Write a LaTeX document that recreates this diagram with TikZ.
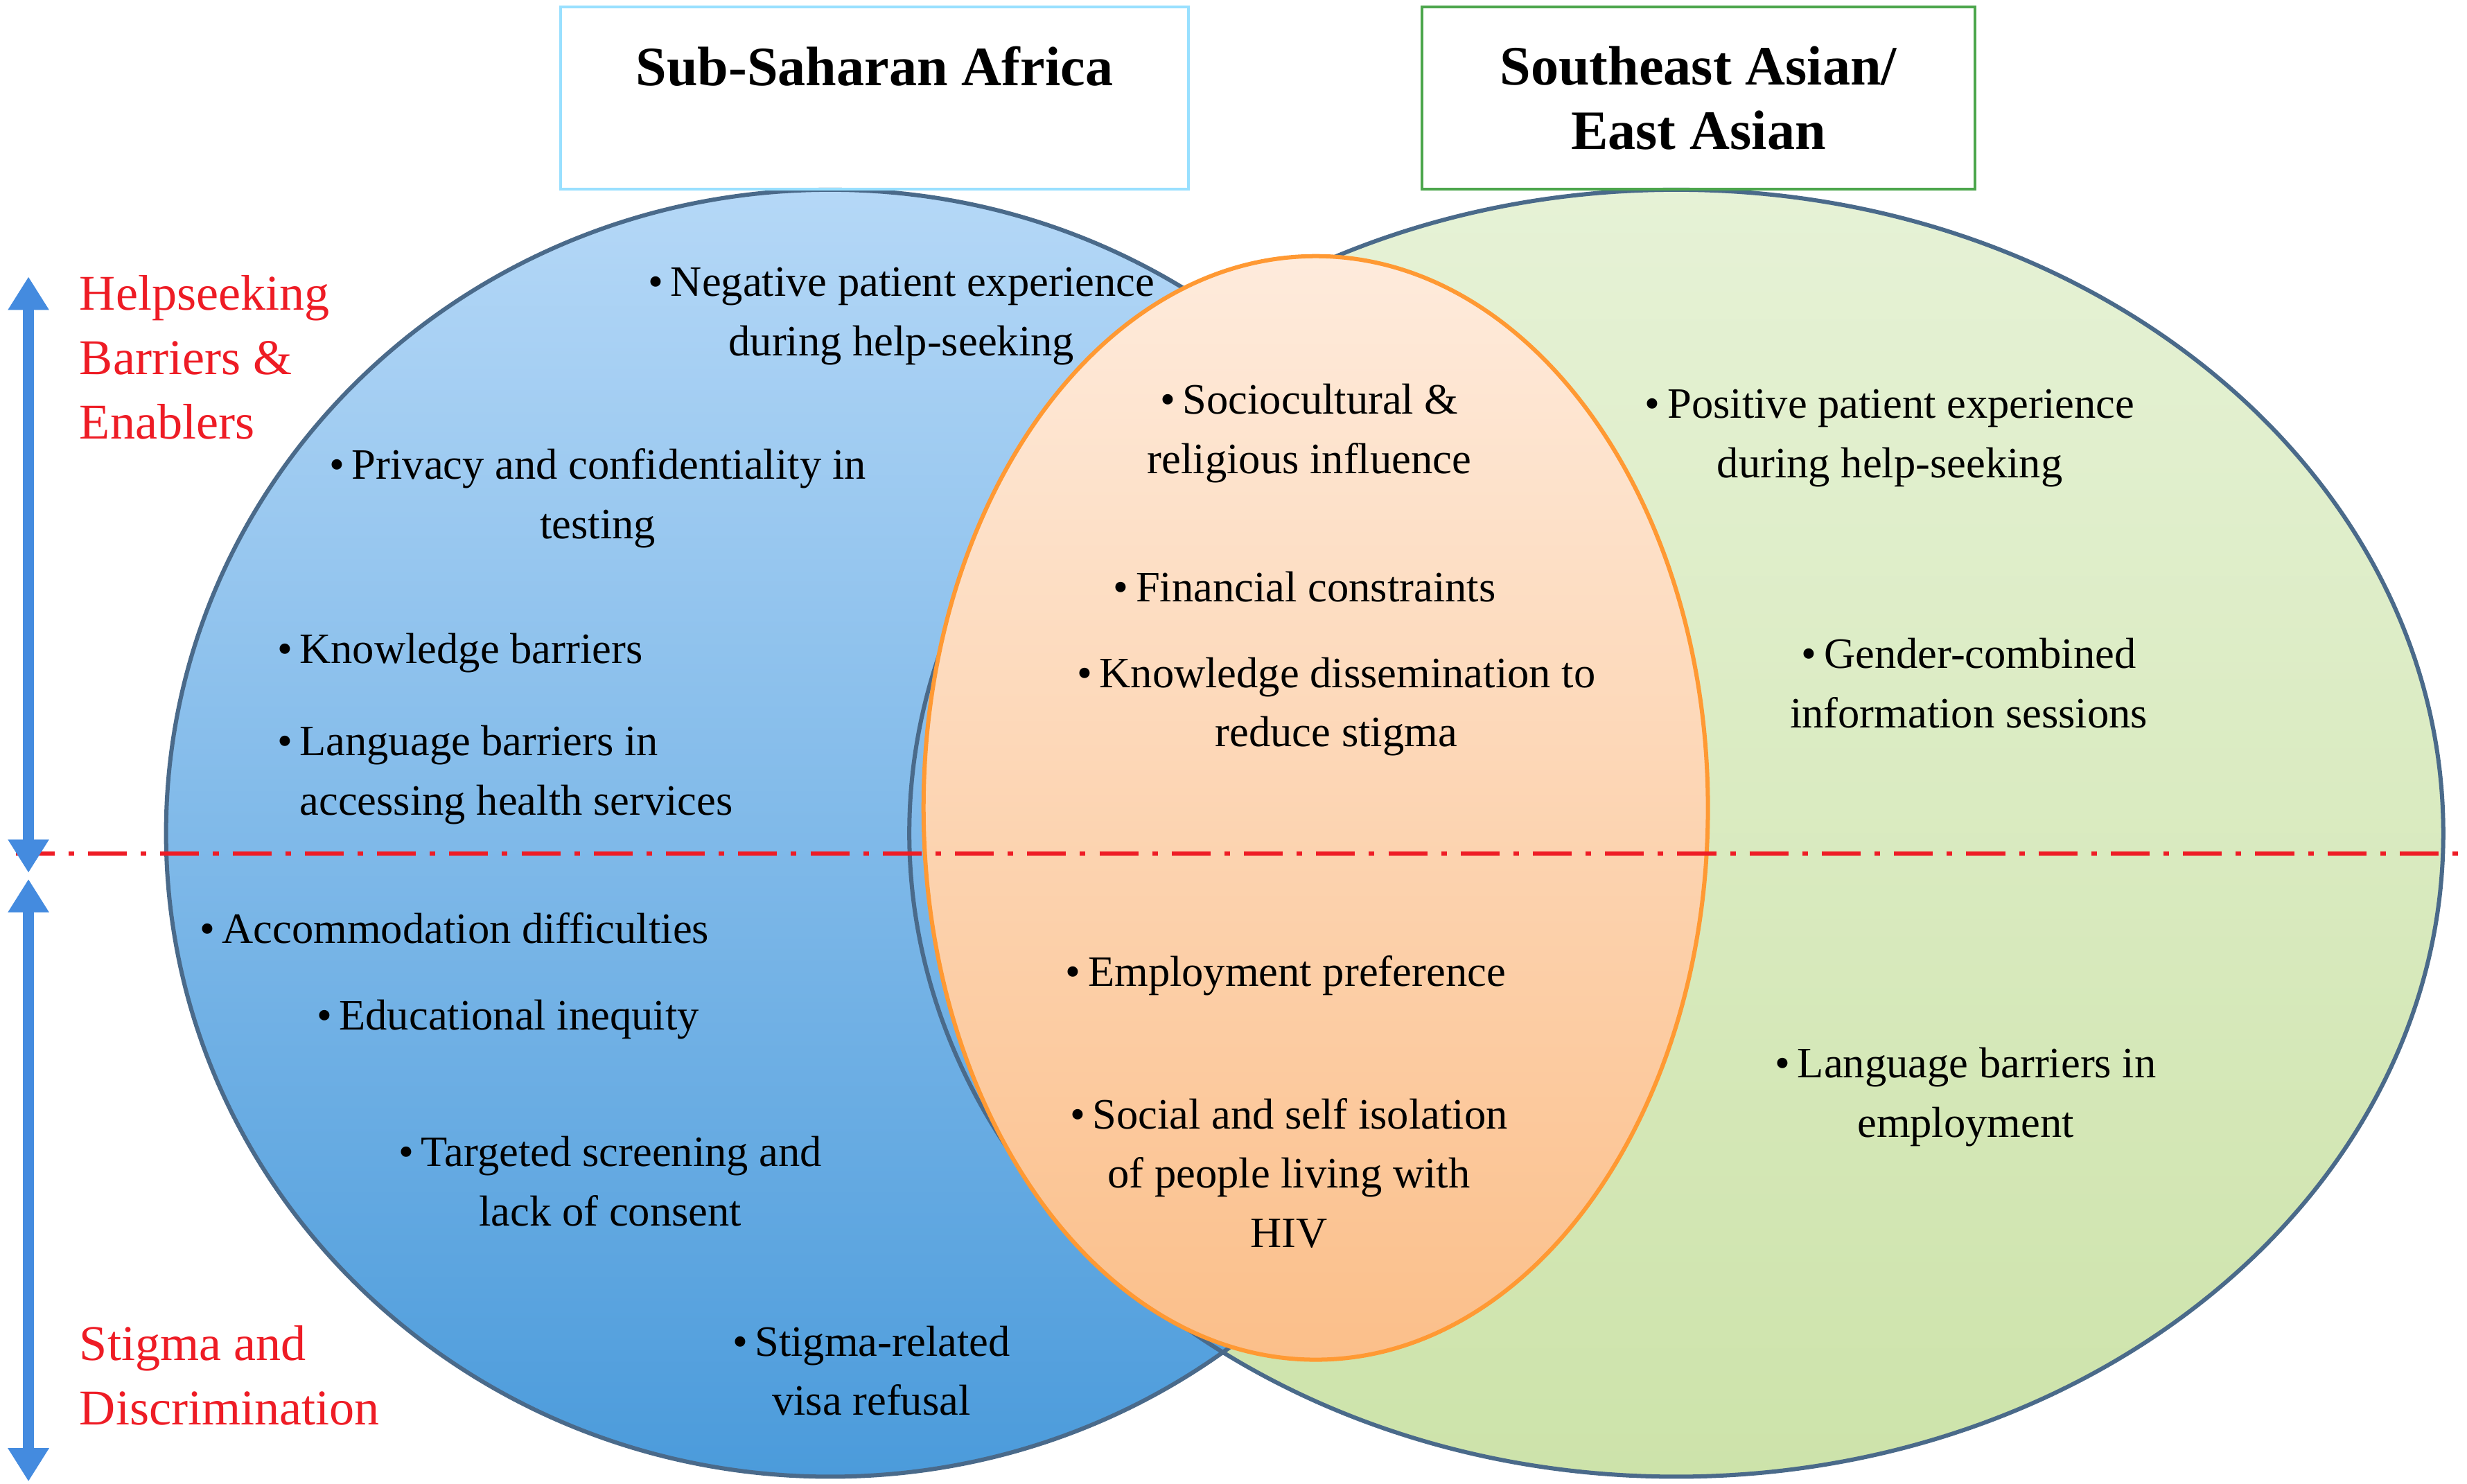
\documentclass[tikz,border=0pt]{standalone}
\usepackage{fontspec}
\setmainfont{Liberation Serif}
\usetikzlibrary{arrows.meta}
\definecolor{bluetop}{HTML}{B5D8F7}
\definecolor{bluebot}{HTML}{4B9BDB}
\definecolor{greentop}{HTML}{E6F2D6}
\definecolor{greenbot}{HTML}{CDE3AA}
\definecolor{orgtop}{HTML}{FEEBDC}
\definecolor{orgbot}{HTML}{FBBF8A}
\definecolor{redtxt}{HTML}{EE1C25}
\definecolor{edge}{HTML}{4A6A8A}
\begin{document}
\begin{tikzpicture}[x=0.02cm,y=-0.02cm,
  txt/.style={font=\fontsize{15.6}{21.4}\selectfont,align=center,inner sep=0pt},
  lab/.style={font=\fontsize{18}{23.2}\selectfont,text=redtxt,align=left,anchor=west,inner sep=0pt},
  ttl/.style={draw,line width=1pt,minimum width=7.94cm,minimum height=2.3cm,font=\fontsize{20}{23}\selectfont\bfseries,align=center},
  arr/.style={{Triangle[width=14pt,length=12pt]}-{Triangle[width=14pt,length=12pt]},line width=4pt,color=bluebot!90!blue}]
\useasboundingbox (0,0) rectangle (1560,938.6);
\fill[white] (0,0) rectangle (1560,938.6);
% ellipses
\shade[top color=greentop,bottom color=greenbot] (1060,527) ellipse [x radius=485,y radius=407];
\shade[top color=bluetop,bottom color=bluebot] (525,527) ellipse [x radius=420,y radius=407];
\draw[line width=1.5pt,color=edge] (525,527) ellipse [x radius=420,y radius=407];
\draw[line width=1.5pt,color=edge] (1060,527) ellipse [x radius=485,y radius=407];
\shade[top color=orgtop,bottom color=orgbot,draw=orange!80,line width=1.5pt] (832,511) ellipse [x radius=248,y radius=349];
% titles
\node[ttl,draw=blue!30!cyan!40] (ssa) at (553,62) {Sub-Saharan Africa\\\mbox{}};
\node[ttl,draw=green!50!black!70,minimum width=7.0cm] (sea) at (1074,62) {Southeast Asian/\\East Asian};
% divider
\coordinate (dl) at (10,540); \coordinate (dr) at (1560,540);
\draw[redtxt,line width=1.5pt,dash pattern=on 14pt off 5pt on 2pt off 5pt] (dl) -- (dr);
% arrows
\coordinate (a1) at (18,175); \coordinate (a2) at (18,552);
\coordinate (a3) at (18,556); \coordinate (a4) at (18,937);
\draw[arr] (a1) -- (a2);
\draw[arr] (a3) -- (a4);
\node[lab] (l1) at (50,226) {Helpseeking\\Barriers \&\\Enablers};
\node[lab] (l2) at (50,870) {Stigma and\\Discrimination};
% texts
\node[txt] (t1) at (570,200) {\textbullet\,Negative patient experience\\during help-seeking};
\node[txt] (t2) at (378,315) {\textbullet\,Privacy and confidentiality in\\testing};
\node[txt,anchor=west] (t3) at (175,413) {\textbullet\,Knowledge barriers};
\node[txt,anchor=west,align=left] (t4) at (175,490) {\textbullet\,Language barriers in\\\phantom{\textbullet\,}accessing health services};
\node[txt,anchor=west] (t5) at (126,587) {\textbullet\,Accommodation difficulties};
\node[txt,anchor=west] (t6) at (200,645) {\textbullet\,Educational inequity};
\node[txt] (t7) at (386,747) {\textbullet\,Targeted screening and\\lack of consent};
\node[txt] (t8) at (551,867) {\textbullet\,Stigma-related\\visa refusal};
\node[txt] (c1) at (828,274) {\textbullet\,Sociocultural \&\\religious influence};
\node[txt] (c2) at (825,371) {\textbullet\,Financial constraints};
\node[txt] (c3) at (845,447) {\textbullet\,Knowledge dissemination to\\reduce stigma};
\node[txt] (c4) at (813,617) {\textbullet\,Employment preference};
\node[txt] (c5) at (815,742) {\textbullet\,Social and self isolation\\of people living with\\HIV};
\node[txt] (g1) at (1195,277) {\textbullet\,Positive patient experience\\during help-seeking};
\node[txt] (g2) at (1245,432) {\textbullet\,Gender-combined\\information sessions};
\node[txt] (g3) at (1243,694) {\textbullet\,Language barriers in\\employment};
\end{tikzpicture}
\end{document}
